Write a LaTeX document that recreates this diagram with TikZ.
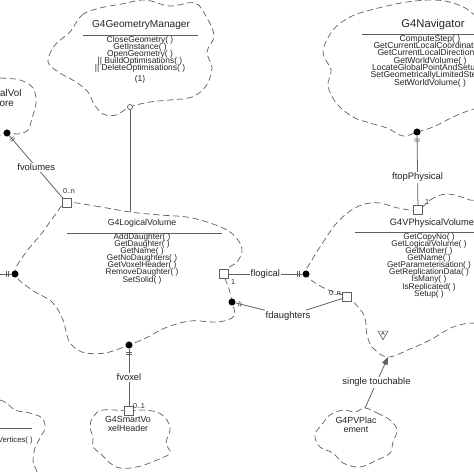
\documentclass[tikz,border=0pt]{standalone}
\usepackage{fontspec}
\setmainfont{Liberation Sans}
\usetikzlibrary{arrows.meta,decorations.markings,shapes.geometric}
\definecolor{outline}{RGB}{95,95,95}
\definecolor{ink}{RGB}{35,35,35}
\tikzset{
  cloudline/.style={draw=outline,line width=0.5pt,dash pattern=on 4.5pt off 2.5pt},
  classname/.style={font=\fontsize{#1}{#1}\selectfont,text=ink,inner sep=0pt,align=center},
  classname/.default=6.3,
  meth/.style={font=\fontsize{#1}{#1}\selectfont,text=ink,inner sep=0pt},
  meth/.default=5.8,
  divider/.style={draw=outline,line width=0.55pt},
  link/.style={draw=outline,line width=0.55pt},
  role/.style={font=\fontsize{6.7}{7}\selectfont,text=ink,fill=white,inner sep=0.8pt},
  mult/.style={font=\fontsize{5.1}{6}\selectfont,text=ink,inner sep=0.5pt},
  has/.style={circle,fill=black,inner sep=0pt,minimum size=5pt},
  uses/.style={circle,draw=outline,fill=white,inner sep=0pt,minimum size=3.6pt,line width=0.55pt},
  card/.style={rectangle,draw=outline,fill=white,inner sep=0pt,minimum size=6pt,line width=0.55pt},
  abstractmark/.style={regular polygon,regular polygon sides=3,shape border rotate=180,
    draw=outline,line width=0.45pt,inner sep=0.2pt,font=\fontsize{3.6}{4}\selectfont},
  byvalue/.style={postaction={decorate,decoration={markings,mark=at position #1 with {
    \draw[outline,line width=0.45pt] (-0.7pt,-1.9pt) -- (-0.7pt,1.9pt) (0.7pt,-1.9pt) -- (0.7pt,1.9pt);}}}},
  byvalue/.default=3pt,
}

\begin{document}
\begin{tikzpicture}[x=0.025cm,y=-0.025cm]
  \useasboundingbox (0,0) rectangle (474,474);
  \clip (0,0) rectangle (474,474);

  % class clouds
  \draw[cloudline] plot[smooth cycle,tension=0.6] coordinates {(70,32) (82,15) (100,8) (122,4) (145,0) (170,6) (195,3) (207,18) (214,36) (207,52) (212,68) (206,86) (192,97) (170,100) (150,102) (130,107) (116,115) (103,114) (94,104) (88,92) (76,82) (60,73) (48,62) (55,45)};
  \draw[cloudline] plot[smooth cycle,tension=0.6] coordinates {(350,17) (367,11) (387,6) (407,2) (433,0) (453,3) (472,13) (495,40) (495,100) (470,110) (453,117) (433,127) (417,132) (403,136) (387,128) (370,123) (353,117) (337,104) (328,86) (331,70) (323,52) (333,30)};
  \draw[cloudline] plot[smooth cycle,tension=0.6] coordinates {(-40,75) (0,78) (20,80) (33,88) (36,103) (32,118) (28,130) (18,134) (7,133) (-10,136) (-40,120)};
  \draw[cloudline] plot[smooth cycle,tension=0.6] coordinates {(67,203) (95,206) (130,212) (160,215) (187,217) (207,222) (227,230) (238,240) (242,251) (237,262) (228,268) (224,274) (229,289) (232,302) (234,316) (218,322) (190,321) (165,328) (146,338) (129,345) (105,353) (82,352) (69,341) (63,320) (52,302) (32,290) (15,274) (24,255) (42,233) (55,215)};
  \draw[cloudline] plot[smooth cycle,tension=0.6] coordinates {(418,210) (430,200) (447,194) (470,200) (495,210) (495,325) (473,323) (453,327) (430,340) (410,349) (388,357) (373,348) (367,335) (365,318) (358,307) (347,297) (322,287) (306,274) (312,260) (320,247) (335,225) (350,211) (365,204) (380,203) (398,208)};
  \draw[cloudline] plot[smooth cycle,tension=0.6] coordinates {(365,408) (377,413) (390,420) (397,430) (393,442) (390,453) (377,460) (360,467) (343,463) (333,453) (320,447) (315,435) (323,423) (330,415) (343,410) (355,412)};
  \draw[cloudline] plot[smooth cycle,tension=0.6] coordinates {(103,410) (129,411) (140,410) (157,412) (167,420) (170,430) (166,443) (170,453) (157,460) (137,467) (120,468) (110,463) (100,453) (93,447) (93,437) (90,427) (93,417)};
  \draw[cloudline] plot[smooth cycle,tension=0.6] coordinates {(-40,395) (0,400) (15,410) (30,413) (42,418) (45,428) (40,438) (35,448) (33,460) (33,485) (-40,485)};

  % G4GeometryManager
  \node[classname=7.2] (gmname) at (141,25) {G4GeometryManager};
  \draw[divider] (83,35) -- (198,35);
  \foreach \m [count=\i] in {CloseGeometry( ),GetInstance( ),OpenGeometry( ),|| BuildOptimisations( ),|| DeleteOptimisations( )}
    \node[meth=6] (gm\i) at (140,33+7*\i) {\m};
  \node[meth=6] (gmcard) at (140,79) {(1)};

  % G4Navigator
  \node[classname=8] (navname) at (433,25) {G4Navigator};
  \draw[divider] (362,34) -- (480,34);
  \foreach \m [count=\i] in {ComputeStep( ),GetCurrentLocalCoordinate( ),GetCurrentLocalDirection( ),GetWorldVolume( ),LocateGlobalPointAndSetup( ),SetGeometricallyLimitedStep( ),SetWorldVolume( )}
    \node[meth=6.1] (nav\i) at (430,31.7+7.3*\i) {\m};

  % G4LogicalVolumeStore
  \node[classname=7] (storename) at (-7.5,98) {G4LogicalVol\\umeStore};

  % G4LogicalVolume
  \node[classname=6.2] (lvname) at (142,223) {G4LogicalVolume};
  \draw[divider] (67,233) -- (222,233);
  \foreach \m [count=\i] in {AddDaughter( ),GetDaughter( ),GetName( ),GetNoDaughters( ),GetVoxelHeader( ),RemoveDaughter( ),SetSolid( )}
    \node[meth=5.9] (lv\i) at (142,229.8+7.17*\i) {\m};

  % G4VPhysicalVolume
  \node[classname=6.6] (pvname) at (432,223) {G4VPhysicalVolume};
  \draw[divider] (355,232) -- (480,232);
  \foreach \m [count=\i] in {GetCopyNo( ),GetLogicalVolume( ),GetMother( ),GetName( ),GetParameterisation( ),GetReplicationData( ),IsMany( ),IsReplicated( ),Setup( )}
    \node[meth=5.9] (pv\i) at (429,229.9+7.12*\i) {\m};
  \node[abstractmark] (pvabstract) at (383,334) {A};

  % small clouds
  \node[classname] (vxname) at (128,424) {G4SmartVo\\xelHeader};
  \node[classname] (plcname) at (356,425) {G4PVPlac\\ement};
  \draw[divider] (-10,428) -- (32,428);
  \node[meth=5.5,anchor=east] (solidm) at (33,440) {GetVertices( )};

  % association ends
  \node[uses] (gmuse) at (130,107) {};
  \node[has] (navhas) at (417,132) {};
  \node[has] (storehas) at (7,133) {};
  \node[card] (lvvols) at (67,203) {};
  \node[card] (lvlog) at (224,274) {};
  \node[has] (lvdau) at (232,302) {};
  \node[has] (lvvox) at (129,345) {};
  \node[has] (lvleft) at (15,274) {};
  \node[card] (pvtop) at (418,210) {};
  \node[has] (pvlog) at (306,274) {};
  \node[card] (pvdau) at (347,297) {};
  \node[card] (vxhead) at (129,411) {};
  \coordinate (lvtop) at (130,212);
  \coordinate (offleft) at (-5,274);
  \coordinate (pvtip) at (388,357);
  \coordinate (plctop) at (365,408);

  % associations
  \draw[link] (gmuse) -- (lvtop);
  \draw[link,byvalue] (navhas) -- node[role,pos=0.6] (toplab) {ftopPhysical} (pvtop);
  \draw[link,byvalue] (storehas) -- node[role] (vollab) {fvolumes} (lvvols);
  \draw[link,byvalue] (pvlog) -- node[role] (loglab) {flogical} (lvlog);
  \node[role] (daulab) at (288,316) {fdaughters};
  \draw[link,byvalue] (lvdau) -- (daulab) -- (pvdau);
  \draw[link,byvalue] (lvvox) -- node[role] (voxlab) {fvoxel} (vxhead);
  \draw[link,byvalue] (lvleft) -- (offleft);
  \draw[link,-{Triangle[length=5.5pt,width=4.2pt]}] (plctop) -- node[role] (toulab) {single touchable} (pvtip);

  % multiplicities
  \node[mult] (m1) at (69,191) {0..n};
  \node[mult] (m2) at (233,282) {1};
  \node[mult] (m3) at (335,293) {0..n};
  \node[mult] (m4) at (427,202) {1};
  \node[mult] (m5) at (139,406) {0..1};
\end{tikzpicture}
\end{document}
